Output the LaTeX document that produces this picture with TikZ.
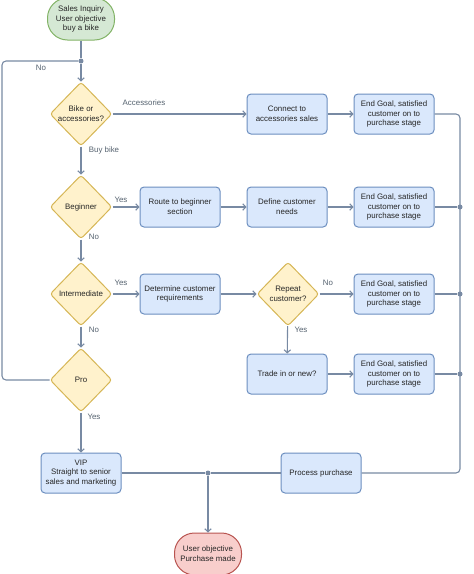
\documentclass[tikz,border=0pt]{standalone}
\usepackage{fontspec}
\setmainfont{Liberation Sans}
\usepackage{xcolor}
\usepackage{tikz}
\usetikzlibrary{shapes.geometric,arrows.meta}
\definecolor{greenfill}{HTML}{D5E8D4}
\definecolor{greenline}{HTML}{82B366}
\definecolor{yellowfill}{HTML}{FFF2CC}
\definecolor{yellowline}{HTML}{D6B656}
\definecolor{bluefill}{HTML}{DAE8FC}
\definecolor{blueline}{HTML}{6C8EBF}
\definecolor{redfill}{HTML}{F8CECC}
\definecolor{redline}{HTML}{B85450}
\definecolor{linegray}{HTML}{788AA3}
\definecolor{labelgray}{HTML}{55626F}
\tikzset{%
  terminal/.style = {draw, line width=1pt, rounded corners=20pt,
    minimum width=67pt, minimum height=42pt, align=center, inner sep=1pt},
  process/.style  = {draw=blueline, fill=bluefill, line width=1pt,
    rounded corners=4pt, minimum width=80pt, minimum height=40pt,
    align=center, inner sep=1pt},
  decision/.style = {diamond, draw=yellowline, fill=yellowfill, line width=1pt,
    rounded corners=3pt, minimum width=62pt, minimum height=64pt,
    inner sep=-2pt, align=center}
}

\begin{document}
\begin{tikzpicture}[
            x=1pt, y=-1pt,
            font=\fontsize{7.9}{9.8}\selectfont,
            text=black!85,
            % Define the styles for connectors
            connection/.style={-{Straight Barb[length=3pt,width=6.5pt]}, draw=linegray, line width=1.1pt},
            line/.style={draw=linegray, line width=1.1pt, rounded corners=4pt},
            junction/.style={circle, fill=linegray, inner sep=0pt, minimum size=5pt},
            tag/.style={text=labelgray, inner sep=0pt},
            ]

            \useasboundingbox (0,0) rectangle (474,574);

            % Start and end
            \node[terminal, draw=greenline, fill=greenfill] (S) at (81,19) {Sales Inquiry\\User objective\\buy a bike};
            \node[terminal, draw=redline, fill=redfill] (E) at (208,554) {User objective\\Purchase made};

            % Decisions
            \node[decision] (D1) at (81,114) {Bike or\\accessories?};
            \node[decision] (D2) at (81,207) {Beginner};
            \node[decision] (D3) at (81,294) {Intermediate};
            \node[decision] (D4) at (81,380) {Pro};
            \node[decision] (R) at (288,294) {Repeat\\customer?};

            % Process steps
            \node[process] (A1) at (287,114) {Connect to\\accessories sales};
            \node[process] (B1) at (180,207) {Route to beginner\\section};
            \node[process] (B2) at (287,207) {Define customer\\needs};
            \node[process] (C1) at (180,294) {Determine customer\\requirements};
            \node[process] (T) at (287,374) {Trade in or new?};
            \node[process] (V) at (81,473) {VIP\\Straight to senior\\sales and marketing};
            \node[process] (P) at (321,473) {Process purchase};

            % End goals
            \foreach \k/\y in {1/114,2/207,3/294,4/374}
                \node[process] (G-\k) at (394,\y) {End Goal, satisfied\\customer on to\\purchase stage};

            % Junctions
            \node[junction] (J0) at (81,61) {};
            \foreach \k/\y in {2/207,3/294,4/374}
                \node[junction] (J-\k) at (460,\y) {};
            \node[junction] (J5) at (208,473) {};
            \coordinate (LT) at (2,61);
            \coordinate (LB) at (2,380);
            \coordinate (RT) at (460,114);
            \coordinate (RB) at (460,473);

            % Main column
            \draw[line] (S) -- (J0);
            \draw[connection] (J0) -- (D1);
            \draw[connection] (D1) -- (D2);
            \draw[connection] (D2) -- (D3);
            \draw[connection] (D3) -- (D4);
            \draw[connection] (D4) -- (V);
            \draw[line] (D4.west) -- (LB) -- (LT) -- (J0);

            % Rows
            \draw[connection] (D1) -- (A1);
            \draw[connection] (A1) -- (G-1);
            \draw[connection] (D2) -- (B1);
            \draw[connection] (B1) -- (B2);
            \draw[connection] (B2) -- (G-2);
            \draw[connection] (D3) -- (C1);
            \draw[connection] (C1) -- (R);
            \draw[connection] (R) -- (G-3);
            \draw[connection] (R) -- (T);
            \draw[connection] (T) -- (G-4);

            % Collect to purchase
            \draw[line] (G-1.east) -- (RT) -- (RB) -- (P.east);
            \foreach \k in {2,3,4}
                \draw[line] (G-\k.east) -- (J-\k);
            \draw[line] (V) -- (J5);
            \draw[line] (P) -- (J5);
            \draw[connection] (J5) -- (E);

            % Labels
            \node[tag] (l-no) at (41,68) {No};
            \node[tag] (l-acc) at (144,103) {Accessories};
            \node[tag] (l-buy) at (104,150) {Buy bike};
            \node[tag] (l-y2) at (121,200) {Yes};
            \node[tag] (l-n2) at (94,237) {No};
            \node[tag] (l-y3) at (121,283) {Yes};
            \node[tag] (l-n3) at (94,330) {No};
            \node[tag] (l-nr) at (328,283) {No};
            \node[tag] (l-yr) at (301,330) {Yes};
            \node[tag] (l-y4) at (94,417) {Yes};

        \end{tikzpicture}
\end{document}
